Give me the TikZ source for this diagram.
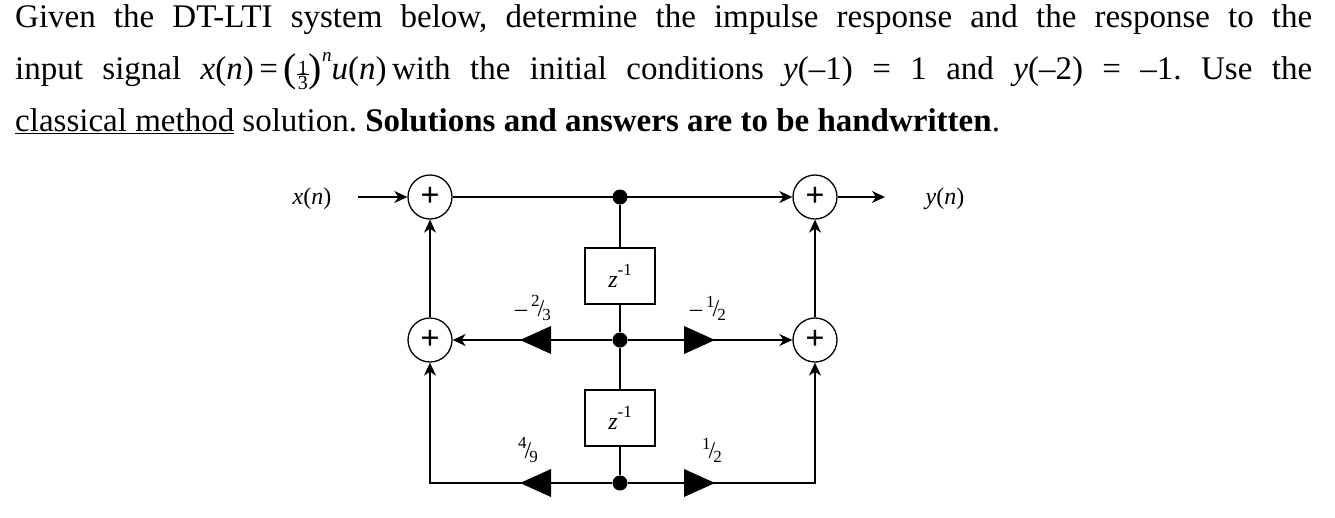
\documentclass[tikz,border=0pt]{standalone}
\usepackage{fontspec}
\setmainfont{Liberation Serif}
\usetikzlibrary{arrows.meta}
\frenchspacing
\newcommand{\fr}[2]{\raisebox{0.4em}{\fontsize{17}{17}\selectfont #1}\kern-0.08em/\kern-0.08em\raisebox{-0.15em}{\fontsize{17}{17}\selectfont #2}}
\newcommand{\vr}[1]{\textit{#1}}
\newcommand{\third}{\raisebox{-0.3em}{\fontsize{20}{20}\selectfont\vbox{\hbox to 12pt{\hfil1\hfil}\kern0pt\hrule height 0.9pt\kern1pt\hbox to 12pt{\hfil3\hfil}}}}
\begin{document}
\begin{tikzpicture}[x=1pt,y=-1pt,
  sumnode/.style={circle,draw,line width=1.3pt,minimum size=44pt,inner sep=0pt,font=\fontsize{34}{34}\selectfont\bfseries},
  dly/.style={draw,line width=1.5pt,minimum width=70pt,minimum height=56pt,inner sep=0pt,font=\fontsize{24}{24}\selectfont},
  dot/.style={circle,fill,inner sep=0pt,minimum size=15pt},
  wire/.style={line width=1.5pt},
  arr/.style={line width=1.5pt,-{Stealth[length=13pt,width=12pt,inset=4pt]}},
  lbl/.style={font=\fontsize{24}{24}\selectfont},
  txt/.style={anchor=west,inner sep=0pt,font=\fontsize{33}{33}\selectfont}]
\useasboundingbox (0,0) rectangle (1335,517);
% text
\node[txt] (l1) at (15,20) {\hbox to 1297pt{Given\hfill the\hfill DT-LTI\hfill system\hfill below,\hfill determine\hfill the\hfill impulse\hfill response\hfill and\hfill the\hfill response\hfill to\hfill the}};
\node[txt] (l2) at (15,71) {\hbox to 1297pt{input\hfill signal\hfill \vr{x}(\vr{n})\,=\,\raisebox{-0.05em}{\fontsize{40}{40}\selectfont(}\third\raisebox{-0.05em}{\fontsize{40}{40}\selectfont)}\raisebox{0.55em}{\fontsize{19}{19}\selectfont\vr{n}}\vr{u}(\vr{n})\,with\hfill the\hfill initial\hfill conditions\hfill \vr{y}(–1)\hfill =\hfill 1\hfill and\hfill \vr{y}(–2)\hfill =\hfill –1.\hfill Use\hfill the}};
\node[txt] (l3) at (15,121) {\underline{classical method} solution. \textbf{Solutions and answers are to be handwritten}.};
% diagram
\node[sumnode] (s1) at (430,197) {+};
\node[sumnode] (s2) at (430,340) {+};
\node[sumnode] (s3) at (815,197) {+};
\node[sumnode] (s4) at (815,340) {+};
\node[dot] (d1) at (620,197) {};
\node[dot] (d2) at (620,340) {};
\node[dot] (d3) at (620,483) {};
\node[dly] (z1) at (620,276) {\vr{z}\raisebox{0.5em}{\fontsize{17}{17}\selectfont -1}};
\node[dly] (z2) at (620,418) {\vr{z}\raisebox{0.5em}{\fontsize{17}{17}\selectfont -1}};
\node[lbl] (xin) at (312,199) {\vr{x}(\vr{n})};
\node[lbl] (yout) at (945,199) {\vr{y}(\vr{n})};
\coordinate (xa) at (358,197);
\coordinate (ya) at (885,197);
\node[lbl] (g1) at (533,308) {–\,\fr{2}{3}};
\node[lbl] (g2) at (528,450) {\fr{4}{9}};
\node[lbl] (g3) at (708,308) {–\,\fr{1}{2}};
\node[lbl] (g4) at (712,450) {\fr{1}{2}};
% triangles
\coordinate (t1) at (520,340); \coordinate (t2) at (520,483);
\coordinate (t3) at (715,340); \coordinate (t4) at (715,483);
\coordinate (bl) at (430,483); \coordinate (br) at (815,483);
\fill (t1) -- ++(31,-14) -- ++(0,28) -- cycle;
\fill (t2) -- ++(31,-14) -- ++(0,28) -- cycle;
\fill (t3) -- ++(-31,-14) -- ++(0,28) -- cycle;
\fill (t4) -- ++(-31,-14) -- ++(0,28) -- cycle;
% wires
\draw[arr] (xa) -- (s1);
\draw[arr] (s1) -- (s3);
\draw[arr] (s3) -- (ya);
\draw[wire] (d1) -- (z1) -- (d2) -- (z2) -- (d3);
\draw[wire] (d2) -- (t1);
\draw[arr] (t1) -- (s2);
\draw[wire] (d3) -- (t2);
\draw[arr] (t2) -- (bl) -- (s2);
\draw[arr] (s2) -- (s1);
\draw[wire] (d2) -- (t3);
\draw[arr] (t3) -- (s4);
\draw[wire] (d3) -- (t4);
\draw[arr] (t4) -- (br) -- (s4);
\draw[arr] (s4) -- (s3);
\end{tikzpicture}
\end{document}
